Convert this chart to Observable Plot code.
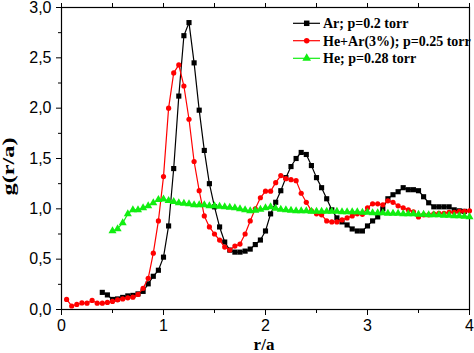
<!DOCTYPE html>
<html>
<head>
<meta charset="utf-8">
<script src="https://cdn.jsdelivr.net/npm/d3@7"></script>
<script src="https://cdn.jsdelivr.net/npm/@observablehq/plot@0.6"></script>
<style>
  html, body { margin: 0; padding: 0; background: #fff; }
  #chart { width: 474px; height: 353px; overflow: hidden; }
</style>
</head>
<body>
<div id="chart"></div>
<script>
// ---- data ----
const seriesNames = ["Ar; p=0.2 torr", "He+Ar(3%); p=0.25 torr", "He; p=0.28 torr"];
const seriesColors = ["#000000", "#ff0000", "#11ee11"];

const arR = [0.40,0.45,0.50,0.55,0.60,0.65,0.70,0.75,0.80,0.85,0.90,0.95,1.00,1.05,1.10,1.15,1.20,1.25,1.30,1.35,1.40,1.45,1.50,1.55,1.60,1.65,1.70,1.75,1.80,1.85,1.90,1.95,2.00,2.05,2.10,2.15,2.20,2.25,2.30,2.35,2.40,2.45,2.50,2.55,2.60,2.65,2.70,2.75,2.80,2.85,2.90,2.95,3.00,3.05,3.10,3.15,3.20,3.25,3.30,3.35,3.40,3.45,3.50,3.55,3.60,3.65,3.70,3.75,3.80,3.85,3.90,3.95];
const arG = [0.17,0.145,0.10,0.105,0.12,0.135,0.14,0.155,0.18,0.255,0.33,0.39,0.52,0.83,1.40,2.12,2.72,2.85,2.45,1.98,1.58,1.25,1.02,0.82,0.67,0.59,0.57,0.57,0.58,0.60,0.645,0.69,0.78,0.95,1.065,1.18,1.31,1.42,1.50,1.56,1.54,1.43,1.31,1.21,1.10,0.99,0.91,0.87,0.84,0.80,0.78,0.78,0.83,0.88,0.92,1.00,1.10,1.14,1.17,1.21,1.19,1.19,1.18,1.12,1.06,1.02,1.02,1.02,1.02,0.99,0.98,0.975];

const heArR = [0.05,0.10,0.15,0.20,0.25,0.30,0.35,0.40,0.45,0.50,0.55,0.60,0.65,0.70,0.75,0.80,0.85,0.90,0.95,1.00,1.05,1.10,1.15,1.20,1.25,1.30,1.35,1.40,1.45,1.50,1.55,1.60,1.65,1.70,1.75,1.80,1.85,1.90,1.95,2.00,2.05,2.10,2.15,2.20,2.25,2.30,2.35,2.40,2.45,2.50,2.55,2.60,2.65,2.70,2.75,2.80,2.85,2.90,2.95,3.00,3.05,3.10,3.15,3.20,3.25,3.30,3.35,3.40,3.45,3.50,3.55,3.60,3.65,3.70,3.75,3.80,3.85,3.90,3.95,4.00];
const heArG = [0.10,0.035,0.05,0.065,0.063,0.09,0.063,0.063,0.07,0.08,0.096,0.105,0.116,0.122,0.15,0.21,0.31,0.56,0.88,1.32,2.00,2.35,2.43,2.22,1.89,1.47,1.18,0.93,0.82,0.75,0.69,0.62,0.59,0.63,0.65,0.75,0.88,1.00,1.11,1.175,1.175,1.26,1.33,1.30,1.29,1.28,1.155,1.065,0.98,0.95,0.94,0.88,0.87,0.87,0.89,0.91,0.93,0.95,0.945,1.01,1.05,1.05,1.04,1.08,1.065,1.03,1.01,0.99,0.97,0.92,0.94,0.94,0.95,0.955,0.955,0.965,0.965,0.975,0.975,0.98];

const heR = [0.50,0.55,0.60,0.65,0.70,0.75,0.80,0.85,0.90,0.95,1.00,1.05,1.10,1.15,1.20,1.25,1.30,1.35,1.40,1.45,1.50,1.55,1.60,1.65,1.70,1.75,1.80,1.85,1.90,1.95,2.00,2.05,2.10,2.15,2.20,2.25,2.30,2.35,2.40,2.45,2.50,2.55,2.60,2.65,2.70,2.75,2.80,2.85,2.90,2.95,3.00,3.05,3.10,3.15,3.20,3.25,3.30,3.35,3.40,3.45,3.50,3.55,3.60,3.65,3.70,3.75,3.80,3.85,3.90,3.95,4.00];
const heG = [0.78,0.80,0.86,0.95,0.99,0.99,1.01,1.03,1.06,1.09,1.095,1.08,1.07,1.06,1.055,1.05,1.04,1.04,1.04,1.03,1.03,1.025,1.02,1.015,1.01,1.00,0.99,0.98,0.985,0.995,1.01,1.02,1.005,0.995,0.99,0.985,0.98,0.98,0.98,0.975,0.975,0.975,0.975,0.975,0.975,0.97,0.97,0.97,0.97,0.965,0.965,0.96,0.96,0.96,0.955,0.955,0.955,0.95,0.95,0.95,0.945,0.945,0.94,0.94,0.94,0.935,0.935,0.93,0.93,0.925,0.92];

const xMajorTicks = [0, 1, 2, 3, 4];
const xMinorTicks = [0.5, 1.5, 2.5, 3.5];
const xTopTicks = [0, 0.5, 1, 1.5, 2, 2.5, 3, 3.5, 4];
const yMajorTicks = [0, 0.5, 1, 1.5, 2, 2.5, 3];
const yMinorTicks = [0.25, 0.75, 1.25, 1.75, 2.25, 2.75];
const xLabel = "r/a";
const yLabel = "g(r/a)";

// ---- build ----
const zip = (xs, ys) => xs.map((x, i) => ({x, y: ys[i]}));
const ar = zip(arR, arG);
const heAr = zip(heArR, heArG);
const he = zip(heR, heG);
const fmt = d => d.toFixed(1).replace(".", ",");

const plot = Plot.plot({
  width: 474,
  height: 353,
  marginLeft: 61,
  marginRight: 5,
  marginTop: 7,
  marginBottom: 44,
  style: {background: "#fff", fontFamily: "'Liberation Sans', Arial, sans-serif", fontSize: "16px", color: "#000", overflow: "visible"},
  x: {domain: [0, 4]},
  y: {domain: [0, 3]},
  marks: [
    Plot.axisY(yMinorTicks, {tickSize: 3, tickFormat: () => "", label: null}),
    Plot.axisY(yMajorTicks, {tickSize: 5, tickPadding: 5, tickFormat: fmt, label: null, fontSize: 16}),
    Plot.axisX(xMinorTicks, {tickSize: 4, tickFormat: () => "", label: null}),
    Plot.axisX(xMajorTicks, {tickSize: 6, tickPadding: 4, tickFormat: d => String(d), label: null, fontSize: 16}),
    Plot.axisX(xTopTicks, {anchor: "top", tickSize: 5, tickFormat: () => "", label: null}),
    Plot.frame({stroke: "#000", strokeWidth: 1.2}),
    Plot.line(ar, {x: "x", y: "y", stroke: seriesColors[0], strokeWidth: 1.2}),
    Plot.dot(ar, {x: "x", y: "y", symbol: "square", fill: seriesColors[0], r: 2.9}),
    Plot.line(heAr, {x: "x", y: "y", stroke: seriesColors[1], strokeWidth: 1.2}),
    Plot.dot(heAr, {x: "x", y: "y", symbol: "circle", fill: seriesColors[1], r: 2.6}),
    Plot.line(he, {x: "x", y: "y", stroke: seriesColors[2], strokeWidth: 1.2}),
    Plot.dot(he, {x: "x", y: "y", symbol: "triangle", fill: seriesColors[2], r: 3.0})
  ]
});

document.getElementById("chart").appendChild(plot);

// axis titles and legend
const svg = d3.select(plot);
const serif = "'Liberation Serif', 'Times New Roman', serif";
svg.append("text")
  .attr("x", 264).attr("y", 350)
  .attr("text-anchor", "middle")
  .attr("font-family", serif)
  .attr("font-weight", "bold").attr("font-size", 17)
  .attr("fill", "#000")
  .text(xLabel);
svg.append("text")
  .attr("transform", "translate(14,166.5) rotate(-90)")
  .attr("text-anchor", "middle")
  .attr("font-family", serif)
  .attr("font-weight", "bold").attr("font-size", 17)
  .attr("textLength", 58).attr("lengthAdjust", "spacingAndGlyphs")
  .attr("fill", "#000")
  .text(yLabel);

const legendRowsY = [23.3, 40.7, 58.3];
const symbols = [d3.symbolSquare, d3.symbolCircle, d3.symbolTriangle];
const symSizes = [30, 24, 32];
const lg = svg.append("g");
seriesNames.forEach((name, i) => {
  const y = legendRowsY[i];
  lg.append("line").attr("x1", 293).attr("x2", 320).attr("y1", y).attr("y2", y)
    .attr("stroke", seriesColors[i]).attr("stroke-width", 1.2);
  lg.append("path").attr("d", d3.symbol(symbols[i], symSizes[i])())
    .attr("transform", `translate(306.7,${y})`).attr("fill", seriesColors[i]);
  lg.append("text").attr("x", 323).attr("y", y + 5)
    .attr("text-anchor", "start")
    .attr("font-family", serif)
    .attr("font-weight", "bold").attr("font-size", 14)
    .attr("fill", "#000")
    .text(name);
});
</script>
</body>
</html>
